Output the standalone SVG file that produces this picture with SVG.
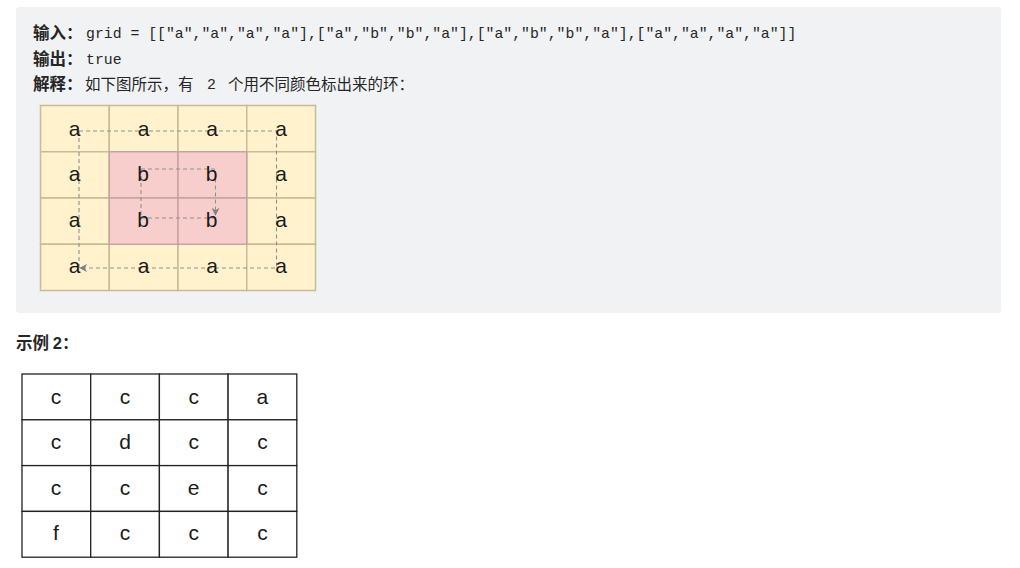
<svg xmlns="http://www.w3.org/2000/svg" width="1020" height="568" viewBox="0 0 1020 568">
<style>
.lbl{font-family:"Noto Sans CJK SC","Noto Sans",sans-serif;font-weight:700;font-size:16.5px;fill:#262626}
.txt{font-family:"Noto Sans CJK SC","Noto Sans",sans-serif;font-size:15.5px;fill:#262626}
.code{font-family:"Liberation Mono","DejaVu Sans Mono",monospace;font-size:14.8px;fill:#262626}
.y{fill:#fff2cc;stroke:#c9bb98;stroke-width:1.5}
.p{fill:#f8cecc;stroke:#c4a4a2;stroke-width:1.5}
.w{fill:#ffffff;stroke:#222;stroke-width:1.3}
.ct{font-family:"Liberation Sans",Arial,sans-serif;font-size:21px;fill:#1a1a1a;text-anchor:middle}
.dash{fill:none;stroke:#8f8f8f;stroke-width:1.1;stroke-dasharray:4 3}
</style>
<defs>
<marker id="arr" viewBox="0 0 10 10" refX="9" refY="5" markerWidth="8" markerHeight="8" orient="auto" markerUnits="userSpaceOnUse">
<path d="M0,0 L10,5 L0,10 L3,5 z" fill="#7f7f7f"/>
</marker>
</defs>
<rect x="16" y="7" width="985" height="306" rx="4" fill="#f1f2f4"/>
<g id="text-lines">
<text class="lbl" x="33" y="39">输入：</text>
<text class="code" x="86" y="38">grid = [["a","a","a","a"],["a","b","b","a"],["a","b","b","a"],["a","a","a","a"]]</text>
<text class="lbl" x="33" y="65">输出：</text>
<text class="code" x="86" y="64">true</text>
<text class="lbl" x="33" y="90">解释：</text>
<text class="txt" x="85" y="90">如下图所示，有</text>
<text class="code" x="207" y="89">2</text>
<text class="txt" x="228" y="90">个用不同颜色标出来的环：</text>
<text class="lbl" x="16" y="349" font-size="16px">示例 <tspan font-family="Liberation Sans,Arial,sans-serif">2</tspan>：</text>
</g>
<g id="grid1">
<g id="g1-r0c0"><rect class="y" x="40.5" y="105.5" width="68.75" height="46.25"/></g>
<g id="g1-r0c1"><rect class="y" x="109.25" y="105.5" width="68.75" height="46.25"/></g>
<g id="g1-r0c2"><rect class="y" x="178" y="105.5" width="68.75" height="46.25"/></g>
<g id="g1-r0c3"><rect class="y" x="246.75" y="105.5" width="68.75" height="46.25"/></g>
<g id="g1-r1c0"><rect class="y" x="40.5" y="151.75" width="68.75" height="46.25"/></g>
<g id="g1-r1c3"><rect class="y" x="246.75" y="151.75" width="68.75" height="46.25"/></g>
<g id="g1-r2c0"><rect class="y" x="40.5" y="198" width="68.75" height="46.25"/></g>
<g id="g1-r2c3"><rect class="y" x="246.75" y="198" width="68.75" height="46.25"/></g>
<g id="g1-r3c0"><rect class="y" x="40.5" y="244.25" width="68.75" height="46.25"/></g>
<g id="g1-r3c1"><rect class="y" x="109.25" y="244.25" width="68.75" height="46.25"/></g>
<g id="g1-r3c2"><rect class="y" x="178" y="244.25" width="68.75" height="46.25"/></g>
<g id="g1-r3c3"><rect class="y" x="246.75" y="244.25" width="68.75" height="46.25"/></g>
<g id="g1-r1c1"><rect class="p" x="109.25" y="151.75" width="68.75" height="46.25"/></g>
<g id="g1-r1c2"><rect class="p" x="178" y="151.75" width="68.75" height="46.25"/></g>
<g id="g1-r2c1"><rect class="p" x="109.25" y="198" width="68.75" height="46.25"/></g>
<g id="g1-r2c2"><rect class="p" x="178" y="198" width="68.75" height="46.25"/></g>
</g>
<g id="connectors">
<path class="dash" d="M79,131 H276.5 V268 H80" marker-end="url(#arr)"/>
<path class="dash" d="M79,131 V268"/>
<path class="dash" d="M141,169 H215.5 V215" marker-end="url(#arr)"/>
<path class="dash" d="M141,169 V218 H215.5"/>
</g>
<g id="grid1-labels">
<text class="ct" x="74.5" y="136">a</text>
<text class="ct" x="143.5" y="136">a</text>
<text class="ct" x="212" y="136">a</text>
<text class="ct" x="281" y="136">a</text>
<text class="ct" x="74.5" y="181">a</text>
<text class="ct" x="143" y="181">b</text>
<text class="ct" x="211.5" y="181">b</text>
<text class="ct" x="281" y="181">a</text>
<text class="ct" x="74.5" y="227">a</text>
<text class="ct" x="143" y="227">b</text>
<text class="ct" x="211.5" y="227">b</text>
<text class="ct" x="281" y="227">a</text>
<text class="ct" x="74.5" y="273">a</text>
<text class="ct" x="143.5" y="273">a</text>
<text class="ct" x="212" y="273">a</text>
<text class="ct" x="281" y="273">a</text>
</g>
<g id="grid2">
<g id="g2-r0c0"><rect class="w" x="22" y="374" width="68.7" height="45.8"/><text class="ct" x="56" y="404">c</text></g>
<g id="g2-r0c1"><rect class="w" x="90.7" y="374" width="68.7" height="45.8"/><text class="ct" x="125" y="404">c</text></g>
<g id="g2-r0c2"><rect class="w" x="159.4" y="374" width="68.7" height="45.8"/><text class="ct" x="193.7" y="404">c</text></g>
<g id="g2-r0c3"><rect class="w" x="228.1" y="374" width="68.7" height="45.8"/><text class="ct" x="262.4" y="404">a</text></g>
<g id="g2-r1c0"><rect class="w" x="22" y="419.8" width="68.7" height="45.8"/><text class="ct" x="56" y="449">c</text></g>
<g id="g2-r1c1"><rect class="w" x="90.7" y="419.8" width="68.7" height="45.8"/><text class="ct" x="125" y="449">d</text></g>
<g id="g2-r1c2"><rect class="w" x="159.4" y="419.8" width="68.7" height="45.8"/><text class="ct" x="193.7" y="449">c</text></g>
<g id="g2-r1c3"><rect class="w" x="228.1" y="419.8" width="68.7" height="45.8"/><text class="ct" x="262.4" y="449">c</text></g>
<g id="g2-r2c0"><rect class="w" x="22" y="465.6" width="68.7" height="45.8"/><text class="ct" x="56" y="495">c</text></g>
<g id="g2-r2c1"><rect class="w" x="90.7" y="465.6" width="68.7" height="45.8"/><text class="ct" x="125" y="495">c</text></g>
<g id="g2-r2c2"><rect class="w" x="159.4" y="465.6" width="68.7" height="45.8"/><text class="ct" x="193.7" y="495">e</text></g>
<g id="g2-r2c3"><rect class="w" x="228.1" y="465.6" width="68.7" height="45.8"/><text class="ct" x="262.4" y="495">c</text></g>
<g id="g2-r3c0"><rect class="w" x="22" y="511.4" width="68.7" height="45.8"/><text class="ct" x="56" y="540">f</text></g>
<g id="g2-r3c1"><rect class="w" x="90.7" y="511.4" width="68.7" height="45.8"/><text class="ct" x="125" y="540">c</text></g>
<g id="g2-r3c2"><rect class="w" x="159.4" y="511.4" width="68.7" height="45.8"/><text class="ct" x="193.7" y="540">c</text></g>
<g id="g2-r3c3"><rect class="w" x="228.1" y="511.4" width="68.7" height="45.8"/><text class="ct" x="262.4" y="540">c</text></g>
</g>
</svg>
